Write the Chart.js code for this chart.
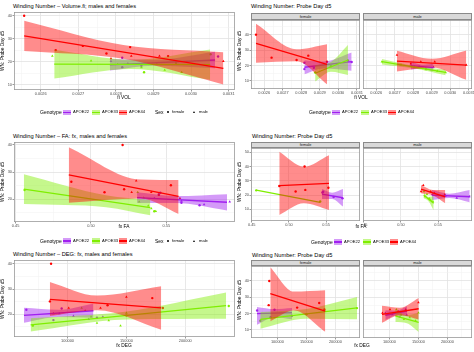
<!DOCTYPE html>
<html><head><meta charset="utf-8">
<script src="https://cdn.jsdelivr.net/npm/chart.js@4.4.1/dist/chart.umd.min.js"></script>
<style>
body{margin:0;width:474px;height:352px;position:relative;background:#fff;font-family:"Liberation Sans",Arial,sans-serif;overflow:hidden}
.t{position:absolute;white-space:nowrap;line-height:1;color:#000}
canvas{position:absolute}
.strip{position:absolute;background:#d9d9d9;border:0.5px solid #8a8a8a;box-sizing:border-box}
.key{position:absolute;width:8px;height:5.5px}
.key i{position:absolute;left:0;right:0;top:2.1px;height:1.2px}
</style></head><body>
<script>
// ---------- categories ----------
const GENOS = ['APOE22', 'APOE33', 'APOE44'];
const SEXES = ['female', 'male'];

// ---------- per-mouse values ----------
const mouseGeno = ['APOE44','APOE44','APOE44','APOE44','APOE44','APOE44','APOE44','APOE44','APOE44','APOE44',
                   'APOE33','APOE33','APOE33','APOE33','APOE33','APOE33','APOE33','APOE33','APOE33',
                   'APOE22','APOE22','APOE22','APOE22','APOE22','APOE22','APOE22','APOE22'];
const mouseSex  = ['female','female','female','female','female','male','male','male','male','male',
                   'female','female','female','male','male','male','male','male','male',
                   'female','female','female','female','male','male','male','male'];
const mouseWN   = [40.0,25.1,23.6,26.4,22.5,26.8,21.4,22.5,22.5,20.3,
                   15.5,19.5,23.3,22.5,20.5,19.0,17.5,16.5,15.5,
                   21.8,17.7,18.6,22.3,20.3,19.3,18.0,19.0];
const mouseVOL  = [0.002556,0.002640,0.002775,0.002838,0.002939,0.002712,0.002787,0.002841,0.002916,0.003086,
                   0.002875,0.002960,0.003052,0.002631,0.002734,0.002805,0.002868,0.002930,0.002975,
                   0.002817,0.002817,0.002868,0.003072,0.002787,0.002832,0.002868,0.002909];
const mouseFA   = [0.521,0.553,0.522,0.487,0.509,0.530,0.545,0.527,0.540,0.559,
                   0.542,null,0.456,0.531,0.535,0.532,0.538,0.540,0.543,
                   0.545,0.572,0.560,0.546,0.542,0.560,0.575,0.592];
const mouseDEG  = [86000,85000,134000,172000,181000,150000,115000,101000,128000,88000,
                   70500,150000,237000,112000,150000,120000,135000,125000,145000,
                   65000,88000,125000,95000,93000,105000,118000,130000];

// ---------- fitted lines and confidence bands (order: APOE22, APOE33, APOE44) ----------
const volAllFitX    = [[0.002784,0.0029,0.003064],[0.002636,0.00284,0.003051],[0.002556,0.00282,0.003086]];
const volAllFitLine = [[18.7,20.8],[19.0,18.8],[31.3,17.2]];
const volAllFitLo   = [[16.2,18.3,17.2],[12.8,16.9,12.2],[24.7,21.3,10.2]];
const volAllFitHi   = [[21.2,20.9,24.4],[25.2,20.9,25.4],[37.8,27.3,24.2]];

const volFemFitX    = [[0.002817,0.00292,0.003072],[0.002875,0.00296,0.003052],[0.002556,0.002775,0.002939]];
const volFemFitLine = [[18.9,22.5],[15.0,23.6],[34.4,20.8]];
const volFemFitLo   = [[14.3,18.0,16.6],[9.6,15.9,13.9],[21.8,22.7,7.8]];
const volFemFitHi   = [[23.5,22.6,28.4],[20.4,22.3,33.3],[47.0,30.5,33.8]];

const volMaleFitX    = [[0.002787,0.00285,0.002909],[0.002631,0.0028,0.002975],[0.002712,0.0029,0.003086]];
const volMaleFitLine = [[19.9,18.6],[22.5,15.5],[22.9,20.3]];
const volMaleFitLo   = [[17.4,17.9,16.1],[20.7,18.2,13.7],[16.2,18.8,10.8]];
const volMaleFitHi   = [[22.4,20.5,21.1],[24.3,19.9,17.3],[29.6,24.4,29.8]];

const faAllFitX    = [[0.5306,0.556,0.5902],[0.4555,0.51,0.5394],[0.4853,0.533,0.5581]];
const faAllFitLine = [[20.5,18.8],[23.7,16.8],[28.9,21.0]];
const faAllFitLo   = [[18.5,18.5,15.8],[18.2,17.0,14.0],[18.6,20.2,14.5]];
const faAllFitHi   = [[22.5,21.1,21.8],[29.2,21.4,19.6],[39.2,27.2,27.0]];

const faFemFitX    = [[0.5444,0.558,0.5726],[0.4561,0.5421],[0.487,0.52,0.5538]];
const faFemFitLine = [[20.7,18.1],[23.5,14.9],[26.6,28.2]];
const faFemFitLo   = [[17.2,17.3,12.0],null,[6.0,14.2,9.5]];
const faFemFitHi   = [[24.2,21.6,24.2],null,[50.4,39.9,48.0]];

const faMaleFitX    = [[0.5417,0.565,0.5924],[0.5306,0.537,0.544],[0.527,0.543,0.5596]];
const faMaleFitLine = [[20.0,18.8],[20.0,14.2],[24.2,18.8]];
const faMaleFitLo   = [[16.5,17.9,14.9],[17.7,15.7,9.3],[21.2,19.6,14.2]];
const faMaleFitHi   = [[23.5,21.0,23.6],[22.0,18.7,19.1],[27.1,23.6,23.6]];

const degAllFitX    = [[62966,92000,122000],[68640,150000,234750],[84920,125000,179600]];
const degAllFitLine = [[19.6,21.4],[15.8,23.4],[25.9,22.5]];
const degAllFitLo   = [[16.6,18.9,18.6],[13.2,17.9,18.2],[19.3,21.6,13.9]];
const degAllFitHi   = [[22.6,21.8,24.2],[18.4,21.1,28.6],[32.8,27.4,31.1]];

const degFemFitX    = [[64838,95000,125143],[70524,150000,237138],[87750,128000,182500]];
const degFemFitLine = [[19.9,20.5],[16.4,23.4],[32.2,21.5]];
const degFemFitLo   = [[13.1,17.7,16.4],[10.6,16.7,16.4],[15.2,21.8,8.7]];
const degFemFitHi   = [[24.0,22.7,23.4],[20.9,22.7,30.1],[48.5,33.5,34.3]];

const degMaleFitX    = [[92923,112000,130312],[110160,130000,150450],[87237,118000,150450]];
const degMaleFitLine = [[18.9,21.5],[18.5,14.5],[19.5,22.9]];
const degMaleFitLo   = [[15.9,18.7,18.5],[14.7,14.0,8.6],[14.3,18.9,16.3]];
const degMaleFitHi   = [[21.9,21.7,24.5],[22.3,19.0,20.4],[24.7,23.5,29.5]];

// ---------- axes: ranges and ticks ----------
const volRange = [0.002529, 0.003117];
const faRange  = [0.449, 0.5955];
const degRange = [54500, 242300];
const volAllY = [7.8, 41.6], volFacetY = [4.8, 49.5];
const faAllY  = [11.5, 41.1], faFacetY = [1.8, 53.0];
const degAllY = [11.0, 41.5], degFacetY = [4.9, 49.2];

const volTicks = [0.0026, 0.0027, 0.0028, 0.0029, 0.0030, 0.0031];
const volTickLabels = ['0.0026', '0.0027', '0.0028', '0.0029', '0.0030', '0.0031'];
const volMinor = [0.00255, 0.00265, 0.00275, 0.00285, 0.00295, 0.00305];
const faTicks = [0.45, 0.50, 0.55];
const faTickLabels = ['0.45', '0.50', '0.55'];
const faMinor = [0.475, 0.525, 0.575];
const degTicks = [100000, 150000, 200000];
const degTickLabels = ['100000', '150000', '200000'];
const degMinor = [75000, 125000, 175000, 225000];
const wnTicks = [10, 20, 30, 40, 50];
const wnTickLabels = ['10', '20', '30', '40', '50'];
const wnMinor = [5, 15, 25, 35, 45];

// ---------- styling ----------
const COL = ['#a020f0', '#7fee00', '#ff0000'];
const RGB = ['160,32,240', '127,238,0', '255,0,0'];
const FONT = 'Liberation Sans';

const borderPlugin = {
  id: 'panelBorder',
  afterDatasetsDraw(chart) {
    const a = chart.chartArea, ctx = chart.ctx;
    ctx.save();
    ctx.strokeStyle = '#9a9a9a';
    ctx.lineWidth = 0.8;
    ctx.strokeRect(a.left + 0.4, a.top + 0.4, a.right - a.left - 0.8, a.bottom - a.top - 0.8);
    ctx.restore();
  }
};

function axis(range, maj, labs, minr, size, show, isX) {
  const eps = (range[1] - range[0]) * 1e-6;
  const all = maj.concat(minr).filter(v => v > range[0] && v < range[1]).sort((a, b) => a - b);
  const isMaj = v => maj.some(m => Math.abs(m - v) < eps);
  return {
    type: 'linear', min: range[0], max: range[1],
    afterBuildTicks: a => { a.ticks = all.map(v => ({ value: v })); },
    afterFit: s => {
      if (isX) s.height = size; else s.width = size;
      s.paddingLeft = 0; s.paddingRight = 0; s.paddingTop = 0; s.paddingBottom = 0;
    },
    ticks: {
      display: show, autoSkip: false, maxRotation: 0, minRotation: 0, padding: 0.5,
      color: '#4d4d4d', font: { family: FONT, size: 3.9 },
      callback: v => { const k = maj.findIndex(m => Math.abs(m - v) < eps); return k >= 0 ? labs[k] : ''; }
    },
    grid: {
      color: c => (c.tick && isMaj(c.tick.value)) ? '#e2e2e2' : '#f1f1f1',
      lineWidth: c => (c.tick && isMaj(c.tick.value)) ? 0.8 : 0.5,
      drawTicks: show, tickLength: show ? 1.5 : 0, tickWidth: 0.6,
      tickColor: c => (c.tick && isMaj(c.tick.value)) ? '#555' : 'rgba(0,0,0,0)'
    },
    border: { display: false }
  };
}

function facet(c) {
  const padR = c.padR || 0;
  const W = (c.R - c.L) + c.yW + padR;
  const H = (c.B - c.T) + c.xH;
  const cv = document.createElement('canvas');
  cv.width = W; cv.height = H;
  Object.assign(cv.style, { left: (c.L - c.yW) + 'px', top: c.T + 'px', width: W + 'px', height: H + 'px' });
  document.body.appendChild(cv);
  const ds = []; let seq = 0;
  const push = d => { d.order = 1000 - (seq++); ds.push(d); };
  for (let g = 0; g < 3; g++) {
    for (const s of SEXES) {
      if (c.sex && s !== c.sex) continue;
      const pts = [];
      mouseWN.forEach((w, i) => {
        if (mouseGeno[i] === GENOS[g] && mouseSex[i] === s && c.mx[i] != null) pts.push({ x: c.mx[i], y: w });
      });
      push({ type: 'line', data: pts, showLine: false, pointStyle: s === 'female' ? 'circle' : 'triangle',
             pointRadius: s === 'female' ? 1.2 : 1.5, pointBackgroundColor: COL[g], pointBorderWidth: 0,
             borderWidth: 0, borderColor: 'rgba(0,0,0,0)' });
    }
  }
  for (let g = 0; g < 3; g++) {
    const xs = c.fx[g];
    if (c.flo[g]) {
      push({ type: 'line', data: xs.map((x, i) => ({ x, y: c.flo[g][i] })), borderWidth: 0, borderColor: 'rgba(0,0,0,0)',
             pointRadius: 0, fill: false, cubicInterpolationMode: 'monotone' });
      push({ type: 'line', data: xs.map((x, i) => ({ x, y: c.fhi[g][i] })), borderWidth: 0, borderColor: 'rgba(0,0,0,0)',
             pointRadius: 0, fill: '-1', backgroundColor: 'rgba(' + RGB[g] + ',0.45)', cubicInterpolationMode: 'monotone' });
    }
    push({ type: 'line', data: [{ x: xs[0], y: c.fl[g][0] }, { x: xs[xs.length - 1], y: c.fl[g][1] }],
           borderColor: COL[g], borderWidth: 1.3, pointRadius: 0, fill: false });
  }
  new Chart(cv, {
    type: 'line',
    data: { datasets: ds },
    options: {
      responsive: false, animation: false, devicePixelRatio: 1, events: [],
      layout: { padding: { left: 0, top: 0, right: padR, bottom: 0 }, autoPadding: false },
      plugins: { legend: { display: false }, tooltip: { enabled: false }, title: { display: false } },
      scales: {
        x: axis(c.xr, c.xMaj, c.xLab, c.xMin, c.xH, true, true),
        y: axis(c.yr, wnTicks, wnTickLabels, wnMinor, c.yW, c.yW > 0, false)
      }
    },
    plugins: [borderPlugin]
  });
}

function addText(s, x, y, size, opt) {
  opt = opt || {};
  const d = document.createElement('div');
  d.className = 't';
  d.textContent = s;
  d.style.left = x + 'px'; d.style.top = y + 'px';
  d.style.fontSize = size + 'px';
  if (opt.color) d.style.color = opt.color;
  let tr = opt.center ? 'translate(-50%,-50%)' : 'translate(0,-50%)';
  if (opt.rot) tr += ' rotate(-90deg)';
  d.style.transform = tr;
  document.body.appendChild(d);
}
function strip(label, L, R, T, B) {
  const d = document.createElement('div');
  d.className = 'strip';
  Object.assign(d.style, { left: L + 'px', top: T + 'px', width: (R - L) + 'px', height: (B - T) + 'px' });
  document.body.appendChild(d);
  addText(label, (L + R) / 2, (T + B) / 2, 3.9, { center: true, color: '#1a1a1a' });
}
function key(g, x, y) {
  const d = document.createElement('div');
  d.className = 'key';
  Object.assign(d.style, { left: x + 'px', top: (y - 2.75) + 'px', background: 'rgba(' + RGB[g] + ',0.45)' });
  const l = document.createElement('i');
  l.style.background = COL[g];
  d.appendChild(l);
  document.body.appendChild(d);
}
function dot(x, y, tri) {
  const d = document.createElement('div');
  d.style.position = 'absolute';
  if (tri) {
    Object.assign(d.style, { left: (x - 1.3) + 'px', top: (y - 1.3) + 'px', width: 0, height: 0,
      borderLeft: '1.3px solid transparent', borderRight: '1.3px solid transparent', borderBottom: '2.3px solid #000' });
  } else {
    Object.assign(d.style, { left: (x - 1.1) + 'px', top: (y - 1.1) + 'px', width: '2.2px', height: '2.2px',
      borderRadius: '50%', background: '#000' });
  }
  document.body.appendChild(d);
}
function genoLegend(x0, y, withSex) {
  addText('Genotype', x0, y, 5);
  const keyX = [23, 52, 79], labX = [33, 62, 89];
  for (let g = 0; g < 3; g++) { key(g, x0 + keyX[g], y); addText(GENOS[g], x0 + labX[g], y, 4.1); }
  if (withSex) {
    addText('Sex', x0 + 115, y, 5);
    dot(x0 + 128, y, false); addText(SEXES[0], x0 + 132, y, 4.1);
    dot(x0 + 154, y, true); addText(SEXES[1], x0 + 159, y, 4.1);
  }
}

// ---------- panels ----------
const leftBox = { L: 14, R: 235, yW: 12, xH: 9 };
const femBox = { L: 251, R: 360, yW: 12, xH: 9, padR: 3, sex: 'female' };
const maleBox = { L: 363, R: 472, yW: 0, xH: 9, padR: 2, sex: 'male' };
const volAx = { xr: volRange, xMaj: volTicks, xLab: volTickLabels, xMin: volMinor, mx: mouseVOL };
const faAx = { xr: faRange, xMaj: faTicks, xLab: faTickLabels, xMin: faMinor, mx: mouseFA };
const degAx = { xr: degRange, xMaj: degTicks, xLab: degTickLabels, xMin: degMinor, mx: mouseDEG };

// row 1
facet(Object.assign({}, leftBox, volAx, { T: 12, B: 90, yr: volAllY, sex: null, fx: volAllFitX, fl: volAllFitLine, flo: volAllFitLo, fhi: volAllFitHi }));
facet(Object.assign({}, femBox, volAx, { T: 20, B: 89, yr: volFacetY, fx: volFemFitX, fl: volFemFitLine, flo: volFemFitLo, fhi: volFemFitHi }));
facet(Object.assign({}, maleBox, volAx, { T: 20, B: 89, yr: volFacetY, fx: volMaleFitX, fl: volMaleFitLine, flo: volMaleFitLo, fhi: volMaleFitHi }));
// row 2
facet(Object.assign({}, leftBox, faAx, { T: 142, B: 222, yr: faAllY, sex: null, fx: faAllFitX, fl: faAllFitLine, flo: faAllFitLo, fhi: faAllFitHi }));
facet(Object.assign({}, femBox, faAx, { T: 148, B: 221, yr: faFacetY, fx: faFemFitX, fl: faFemFitLine, flo: faFemFitLo, fhi: faFemFitHi }));
facet(Object.assign({}, maleBox, faAx, { T: 148, B: 221, yr: faFacetY, fx: faMaleFitX, fl: faMaleFitLine, flo: faMaleFitLo, fhi: faMaleFitHi }));
// row 3
facet(Object.assign({}, leftBox, degAx, { T: 260, B: 337, yr: degAllY, sex: null, fx: degAllFitX, fl: degAllFitLine, flo: degAllFitLo, fhi: degAllFitHi }));
facet(Object.assign({}, femBox, degAx, { T: 266, B: 338, yr: degFacetY, fx: degFemFitX, fl: degFemFitLine, flo: degFemFitLo, fhi: degFemFitHi }));
facet(Object.assign({}, maleBox, degAx, { T: 266, B: 338, yr: degFacetY, fx: degMaleFitX, fl: degMaleFitLine, flo: degMaleFitLo, fhi: degMaleFitHi }));

// strips
strip('female', 251, 360, 13, 20); strip('male', 363, 472, 13, 20);
strip('female', 251, 360, 141.5, 148); strip('male', 363, 472, 141.5, 148);
strip('female', 251, 360, 260, 266); strip('male', 363, 472, 260, 266);

// titles
addText('Winding Number \u2013 Volume.fi; males and females', 13, 6.7, 5.7);
addText('Winding Number: Probe Day d5', 251, 6.7, 5.7);
addText('Winding Number \u2013 FA: fx, males and females', 13, 136.7, 5.7);
addText('Winding Number: Probe Day d5', 252, 136.7, 5.7);
addText('Winding Number \u2013 DEG: fx, males and females', 13, 255.3, 5.7);
addText('Winding Number: Probe Day d5', 252, 256, 5.7);

// y axis titles
const yTitle = 'WN: Probe Day d5';
addText(yTitle, 3, 51, 4.8, { center: true, rot: true });
addText(yTitle, 240, 51, 4.8, { center: true, rot: true });
addText(yTitle, 3, 182, 4.8, { center: true, rot: true });
addText(yTitle, 240, 181.5, 4.8, { center: true, rot: true });
addText(yTitle, 3, 298.5, 4.8, { center: true, rot: true });
addText(yTitle, 240, 299.5, 4.8, { center: true, rot: true });

// x axis titles
addText('fi VOL', 124, 98.3, 4.8, { center: true });
addText('fi VOL', 361, 98.3, 4.8, { center: true });
addText('fx FA', 124, 227.3, 4.8, { center: true });
addText('fx FA', 361, 227.3, 4.8, { center: true });
addText('fx DEG', 124, 346, 4.8, { center: true });
addText('fx DEG', 362, 346, 4.8, { center: true });

// legends
genoLegend(40, 112.3, true);
genoLegend(309, 112.3, false);
genoLegend(40, 241, true);
genoLegend(311, 242, false);
</script>
</body></html>
